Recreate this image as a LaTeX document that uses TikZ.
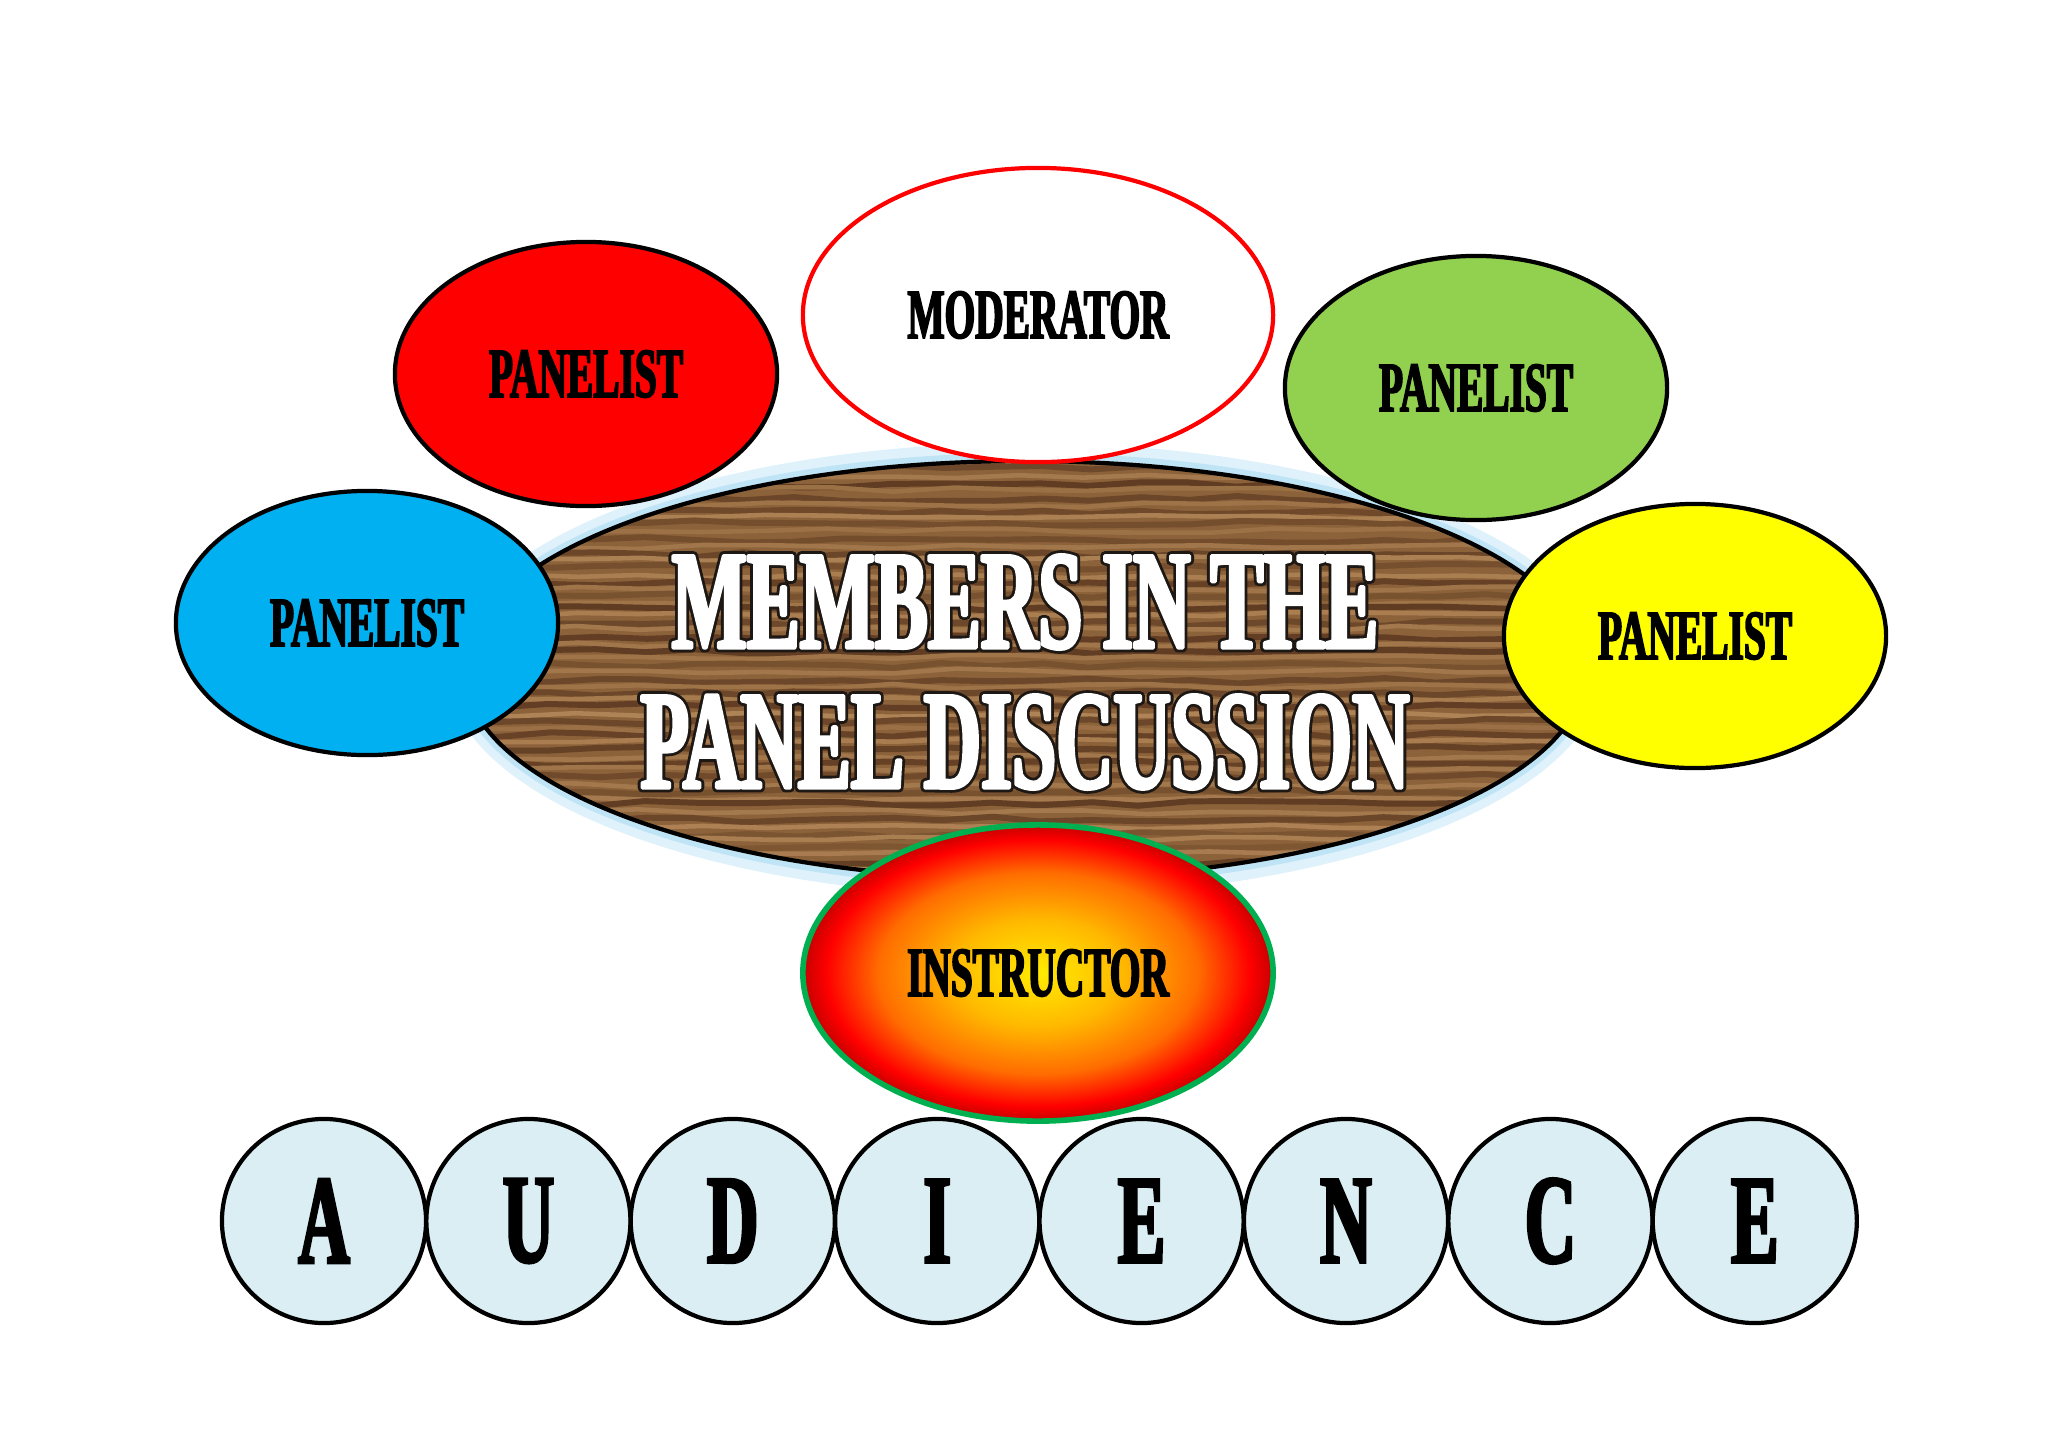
\documentclass[tikz,border=0pt]{standalone}
\usepackage{fontspec}
\usetikzlibrary{shapes.geometric,decorations.pathmorphing}

\newfontfamily\condfont{Liberation Serif}[FakeStretch=0.565]
\newfontfamily\heavyfont{Liberation Serif}[FakeStretch=0.56,FakeBold=2.4]

% stroked text: #1 is the pen width in bp
\newcommand{\penned}[2]{\special{pdf:code q 2 Tr #1 w 1 j}#2\special{pdf:code Q}}

\definecolor{panred}{RGB}{255,0,0}
\definecolor{pangreen}{RGB}{146,208,80}
\definecolor{panblue}{RGB}{0,176,240}
\definecolor{panyellow}{RGB}{255,255,0}
\definecolor{audfill}{RGB}{218,238,243}
\definecolor{glowblue}{RGB}{190,228,246}
\definecolor{woodbase}{RGB}{140,98,58}
\definecolor{wooddark}{RGB}{84,50,28}
\definecolor{woodlight}{RGB}{186,142,94}
\definecolor{instrgreen}{RGB}{0,176,80}
\definecolor{rimdark}{RGB}{30,24,20}

\pgfdeclareradialshading{instrglow}{\pgfpoint{0bp}{0bp}}{%
  color(0bp)=(yellow!85!orange); color(9bp)=(orange!55!yellow);
  color(17bp)=(orange!85!red); color(22.5bp)=(red); color(25bp)=(red!78!black);
  color(50bp)=(red!78!black)}

\tikzset{
  seat/.style={ellipse, draw=black, line width=1.2pt, inner sep=0pt,
    minimum width=3.82cm, minimum height=2.64cm,
    font=\heavyfont\bfseries\fontsize{20}{20}\selectfont},
  chair/.style={ellipse, inner sep=0pt, minimum width=4.70cm, minimum height=2.94cm,
    font=\heavyfont\bfseries\fontsize{20}{20}\selectfont},
  listener/.style={circle, draw=black, line width=1.2pt, fill=audfill, inner sep=0pt,
    minimum size=2.04cm, font=\heavyfont\bfseries\fontsize{36}{36}\selectfont},
  headline/.style={font=\condfont\bfseries\fontsize{40}{40}\selectfont}
}

\begin{document}
\begin{tikzpicture}[x=0.01cm, y=-0.01cm]
        \useasboundingbox (0,0) rectangle (2048,1448);

        % the table
        \fill[glowblue!50] (1025,670) ellipse [x radius=578, y radius=227];
        \fill[glowblue] (1025,670) ellipse [x radius=569, y radius=217];
        \fill[woodbase] (1025,670) ellipse [x radius=561, y radius=209];
        \begin{scope}
          \clip (1025,670) ellipse [x radius=561, y radius=209];
          \pgfmathsetseed{11}
          \foreach \k in {0,...,60}{
            \pgfmathsetmacro{\yy}{462+7*\k+2*rand}
            \pgfmathsetmacro{\dk}{int(random(25,80))}
            \ifodd\k
              \draw[wooddark!\dk!woodbase, line width=1.7pt, decorate,
                decoration={random steps, segment length=14pt, amplitude=0.8pt}] (450,\yy) -- (1600,\yy);
            \else
              \draw[woodlight!\dk!woodbase, line width=1.3pt, decorate,
                decoration={random steps, segment length=18pt, amplitude=0.7pt}] (450,\yy) -- (1600,\yy);
            \fi
          }
        \end{scope}
        \draw[black, line width=1.2pt] (1025,670) ellipse [x radius=561, y radius=209];

        % title: dark rim under white letters
        \node[headline, text=rimdark] (title1rim) at (1025,602) {\penned{2.6}{MEMBERS IN THE}};
        \node[headline, text=rimdark] (title2rim) at (1025,742) {\penned{2.6}{PANEL DISCUSSION}};
        \node[headline, text=white] (title1) at (1025,602) {\penned{1.0}{MEMBERS IN THE}};
        \node[headline, text=white] (title2) at (1025,742) {\penned{1.0}{PANEL DISCUSSION}};

        % people round the table
        \node[seat, fill=panred]    (panA) at (586,374)  {PANELIST};
        \node[seat, fill=panblue]   (panB) at (367,623)  {PANELIST};
        \node[seat, fill=pangreen]  (panC) at (1476,388) {PANELIST};
        \node[seat, fill=panyellow] (panD) at (1695,636) {PANELIST};
        \node[chair, draw=red, line width=1.2pt, fill=white] (mod) at (1038,315) {MODERATOR};
        \node[chair, draw=instrgreen, line width=1.6pt, shading=instrglow,
              minimum height=2.96cm] (instr) at (1038,973) {INSTRUCTOR};

        % audience
        \foreach \ch [count=\i from 0] in {A,U,D,I,E,N,C,E}
          \node[listener] (aud\i) at (324+204.4*\i,1221) {\ch};
    \end{tikzpicture}
\end{document}
